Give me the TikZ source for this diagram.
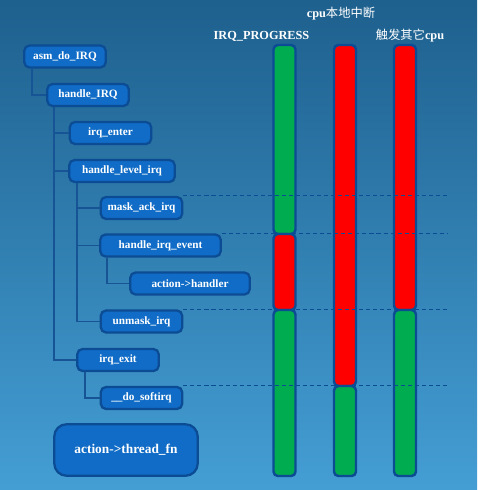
\documentclass[tikz,border=0pt]{standalone}
\usepackage{fontspec}
\setmainfont{Liberation Serif}
\newfontfamily\cjk{Noto Sans CJK SC}
\usepackage{tikz}
\usetikzlibrary{calc}
\definecolor{IRQBgTop}{RGB}{30,96,142}
\definecolor{IRQBgBot}{RGB}{68,158,212}
\definecolor{IRQBox}{RGB}{16,108,198}
\definecolor{IRQEdge}{RGB}{12,76,148}
\definecolor{IRQLine}{RGB}{22,84,150}
\definecolor{IRQGreen}{RGB}{0,172,80}
\definecolor{IRQRed}{RGB}{255,0,0}

\begin{document}
\begin{tikzpicture}[x=0.02cm, y=-0.02cm,
    fn/.style={rectangle, rounded corners=3pt, draw=IRQEdge, line width=1.3pt,
               fill=IRQBox, text=white, inner sep=1pt,
               minimum width=1.63cm, minimum height=0.44cm,
               font=\fontsize{6.4}{7}\selectfont\bfseries},
    tree/.style={IRQLine, line width=0.9pt},
    guide/.style={IRQEdge, line width=0.6pt, dash pattern=on 2.3pt off 1.7pt},
    seg/.style={draw=IRQEdge, line width=1.4pt, rounded corners=2.5pt},
    hdr/.style={text=white, font=\fontsize{7}{8}\selectfont\bfseries}
  ]
  % background
  \shade[top color=IRQBgTop, bottom color=IRQBgBot] (0,0) rectangle (477,490);
  \useasboundingbox (0,0) rectangle (477,490);

  % call tree
  \node[fn] (asm)     at (65,56.5)   {asm\_do\_IRQ};
  \node[fn] (hirq)    at (88,95)     {handle\_IRQ};
  \node[fn] (enter)   at (110.5,133) {irq\_enter};
  \node[fn, minimum width=2.11cm] (hlevel) at (122,171) {handle\_level\_irq};
  \node[fn] (mask)    at (141.5,208) {mask\_ack\_irq};
  \node[fn, minimum width=2.41cm] (hevent) at (160.5,245.5) {handle\_irq\_event};
  \node[fn, minimum width=2.39cm] (handler) at (190,283.5) {action->handler};
  \node[fn] (unmask)  at (141.5,321.5) {unmask\_irq};
  \node[fn] (exit)    at (118,360)   {irq\_exit};
  \node[fn] (softirq) at (141.5,398) {\_\_do\_softirq};
  \node[fn, minimum width=2.87cm, minimum height=1.03cm, rounded corners=7pt,
        font=\fontsize{7.6}{9}\selectfont\bfseries] (thread) at (126,450) {action->thread\_fn};

  \draw[tree] ($(asm.south west)+(9,0)$) |- (hirq.west);
  \foreach \t in {enter, hlevel, exit}
    \draw[tree] ($(hirq.south west)+(8,0)$) |- (\t.west);
  \foreach \t in {mask, hevent, unmask}
    \draw[tree] ($(hlevel.south west)+(9,0)$) |- (\t.west);
  \draw[tree] ($(hevent.south west)+(8,0)$) |- (handler.west);
  \draw[tree] ($(exit.south west)+(9,0)$) |- (softirq.west);

  % headers
  \node[hdr] (hprog)  at (261.5,36) {IRQ\_PROGRESS};
  \node[hdr] (hlocal) at (341,14)   {cpu{\cjk\mdseries 本地中断}};
  \node[hdr] (hother) at (410,36)   {{\cjk\mdseries 触发其它}cpu};

  % state bars
  \foreach \x/\ya/\yb/\col in {
    284.5/45/234/IRQGreen,
    284.5/234/310/IRQRed,
    284.5/310/476/IRQGreen,
    345/45/386/IRQRed,
    345/386/476/IRQGreen,
    405/45/310/IRQRed,
    405/310/476/IRQGreen}{
    \draw[seg, fill=\col] (\x-11,\ya) rectangle (\x+11,\yb);
  }

  % phase marks
  \coordinate (edge) at (447,0);
  \foreach \b in {mask, hevent, unmask, softirq}
    \draw[guide] (\b.north east) -- (\b.north east -| edge);
\end{tikzpicture}
\end{document}
